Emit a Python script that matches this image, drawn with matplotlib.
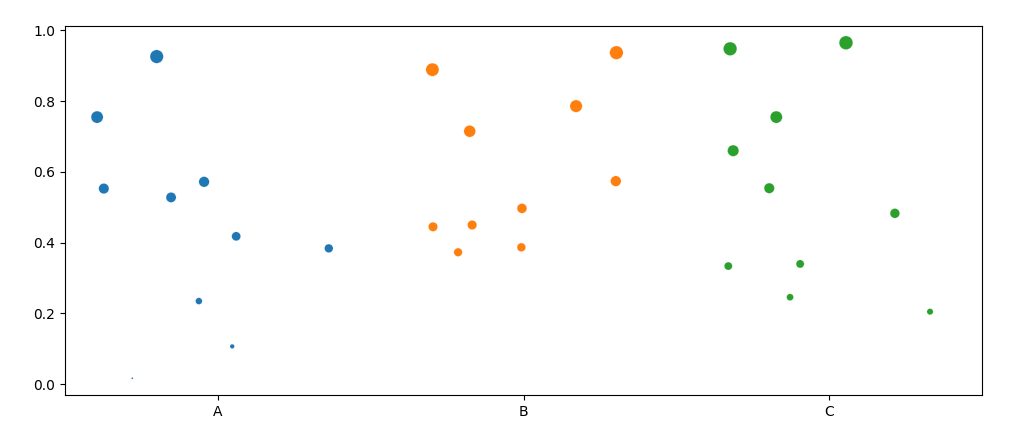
import matplotlib
matplotlib.use("Agg")
import matplotlib.pyplot as plt
import numpy as np

categories = ["A", "B", "C"]
colors = ["#1f77b4", "#ff7f0e", "#2ca02c"]

values_A = [0.926, 0.755, 0.553, 0.528, 0.572, 0.418, 0.384, 0.235, 0.107, 0.017]
jitter_A = [-0.200, -0.395, -0.373, -0.153, -0.045, 0.060, 0.363, -0.062, 0.047, -0.280]

values_B = [0.889, 0.715, 0.937, 0.786, 0.574, 0.497, 0.445, 0.450, 0.373, 0.387]
jitter_B = [-0.298, -0.176, 0.304, 0.172, 0.302, -0.005, -0.296, -0.168, -0.214, -0.007]

values_C = [0.948, 0.965, 0.755, 0.660, 0.554, 0.483, 0.334, 0.340, 0.246, 0.205]
jitter_C = [-0.324, 0.055, -0.173, -0.314, -0.196, 0.215, -0.330, -0.095, -0.128, 0.330]

all_values = [values_A, values_B, values_C]
all_jitter = [jitter_A, jitter_B, jitter_C]

fig = plt.figure(figsize=(10.29, 4.30), dpi=100)
ax = fig.add_axes([65 / 1029, 35 / 430, 917 / 1029, 369 / 430])

for i, (vals, jit, col) in enumerate(zip(all_values, all_jitter, colors)):
    vals = np.array(vals)
    x = i + np.array(jit)
    ax.scatter(x, vals, s=vals * 100, color=col, edgecolor="white", linewidth=0.15, zorder=3)

ax.set_xticks(range(len(categories)))
ax.set_xticklabels(categories)
ax.set_xlim(-0.5, 2.5)
ax.set_yticks([0.0, 0.2, 0.4, 0.6, 0.8, 1.0])

fig.savefig("out.png", dpi=100)
